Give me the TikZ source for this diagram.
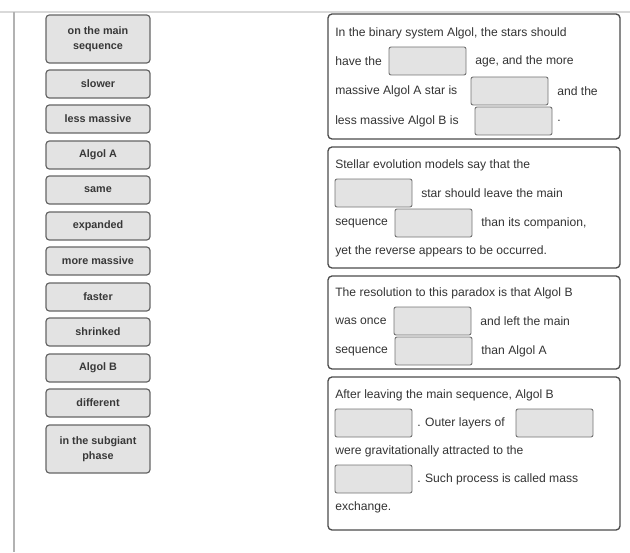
\documentclass[tikz,border=0pt]{standalone}
\usepackage{fontspec}
\setmainfont{Liberation Sans}
\begin{document}
\begin{tikzpicture}[x=0.75pt,y=-0.75pt,
  chip/.style={draw=black!60,line width=0.9pt,fill=black!11,rounded corners=2.5pt},
  blank/.style={draw=black!55,line width=0.7pt,fill=black!11,rounded corners=1.5pt},
  panel/.style={draw=black!70,line width=1pt,rounded corners=3pt},
  lab/.style={font=\fontsize{8.1pt}{11pt}\selectfont\bfseries,text=black!78,align=center},
  txt/.style={font=\fontsize{9.1pt}{11pt}\selectfont,text=black!80,anchor=west,inner sep=0pt}]
\useasboundingbox (0,0) rectangle (630,552);
\draw[black!15,line width=0.8pt] (0,12) -- (630,12);
\draw[black!30,line width=0.8pt] (14,12) -- (14,552);
\foreach \t/\b/\s [count=\i] in {15/63/{on the main\\sequence},70/98/slower,105/133/less massive,141/169/Algol A,176/204/same,212/240/expanded,247/275/more massive,283/311/faster,318/346/shrinked,354/382/Algol B,389/417/different,425/473/{in the subgiant\\phase}}{
  \draw[chip] (46,\t) rectangle (150,\b);
  \node[lab] (c\i) at (98,{(\t+\b)/2}) {\s};
}
\draw[panel] (328,14) rectangle (620,139);
\draw[panel] (328,147) rectangle (620,268);
\draw[panel] (328,276) rectangle (620,369);
\draw[panel] (328,377) rectangle (620,530);
% panel 1
\node[txt] (t1) at (335,33) {In the binary system Algol, the stars should};
\node[txt] (t2) at (335,61) {have the};
\draw[blank] (389,47) rectangle (466,75);
\node[txt] (t3) at (475,61) {age, and the more};
\node[txt] (t4) at (335,91) {massive Algol A star is};
\draw[blank] (471,77) rectangle (548,105);
\node[txt] (t5) at (557,91) {and the};
\node[txt] (t6) at (335,121) {less massive Algol B is};
\draw[blank] (475,107) rectangle (552,135);
\node[txt] (t7) at (557,121) {.};
% panel 2
\node[txt] (u1) at (335,165) {Stellar evolution models say that the};
\draw[blank] (335,179) rectangle (412,207);
\node[txt] (u2) at (421,193) {star should leave the main};
\node[txt] (u3) at (335,223) {sequence};
\draw[blank] (395,209) rectangle (472,237);
\node[txt] (u4) at (481,223) {than its companion,};
\node[txt] (u5) at (335,251) {yet the reverse appears to be occurred.};
% panel 3
\node[txt] (v1) at (335,293) {The resolution to this paradox is that Algol B};
\node[txt] (v2) at (335,321) {was once};
\draw[blank] (394,307) rectangle (471,335);
\node[txt] (v3) at (480,321) {and left the main};
\node[txt] (v4) at (335,351) {sequence};
\draw[blank] (395,337) rectangle (472,365);
\node[txt] (v5) at (481,351) {than Algol A};
% panel 4
\node[txt] (w1) at (335,395) {After leaving the main sequence, Algol B};
\draw[blank] (335,409) rectangle (412,437);
\node[txt] (w2) at (417,423) {. Outer layers of};
\draw[blank] (516,409) rectangle (593,437);
\node[txt] (w3) at (335,451) {were gravitationally attracted to the};
\draw[blank] (335,465) rectangle (412,493);
\node[txt] (w4) at (417,479) {. Such process is called mass};
\node[txt] (w5) at (335,507) {exchange.};
\end{tikzpicture}
\end{document}
